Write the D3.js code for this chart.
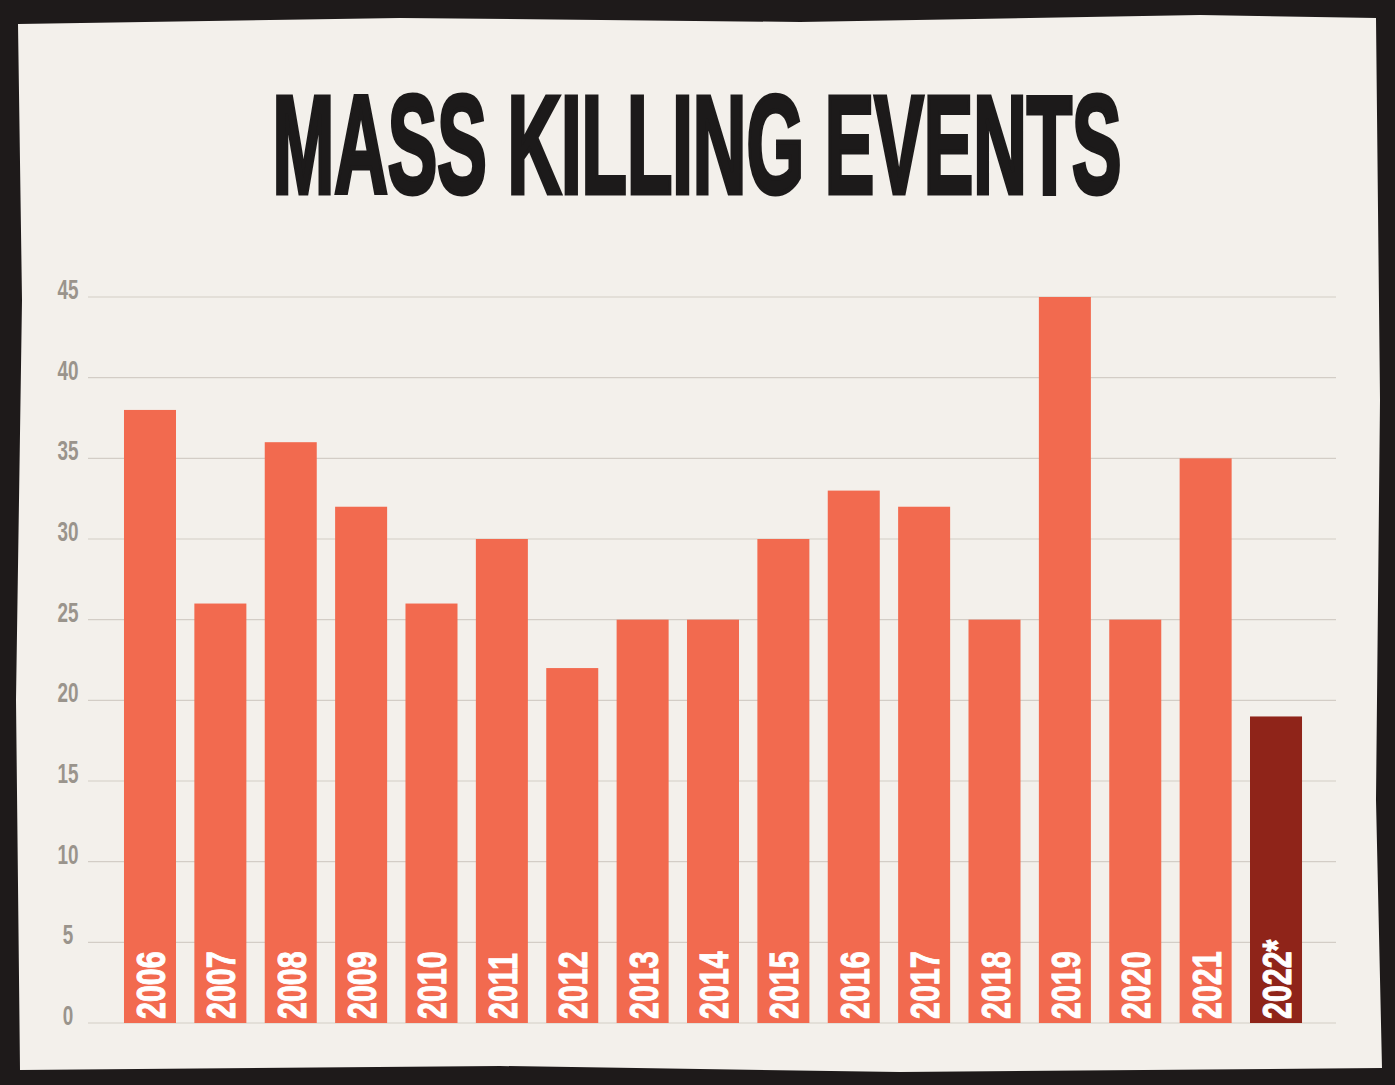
<!DOCTYPE html>
<html><head><meta charset="utf-8">
<script src="https://cdn.jsdelivr.net/npm/d3@7"></script>
<style>body{margin:0;background:#1e1a1a;}svg{display:block}</style>
</head><body>
<svg id="c" width="1395" height="1085"></svg>
<script>
const years = ["2006","2007","2008","2009","2010","2011","2012","2013","2014","2015","2016","2017","2018","2019","2020","2021","2022*"];
const events = [38,26,36,32,26,30,22,25,25,30,33,32,25,45,25,35,19];
const yTicks = [0,5,10,15,20,25,30,35,40,45];
const title = "MASS KILLING EVENTS";

const svg = d3.select("#c");
svg.append("rect").attr("width",1395).attr("height",1085).attr("fill","#1e1a1a");
svg.append("path").attr("fill","#f3f0eb")
  .attr("d","M18,24 L400,18 L800,22 L1200,15 L1376,18 L1380,400 L1376,800 L1382,1068 L900,1072 L500,1066 L20,1070 L16,700 L22,300 Z");

const x = d3.scaleBand().domain(years).range([114.8,1311.2]).paddingInner(0.261).paddingOuter(0.1305);
const y = d3.scaleLinear().domain([0,45]).range([1023,297]);

const g = svg.append("g");
g.selectAll("line.grid").data(yTicks).join("line")
  .attr("x1",88).attr("x2",1336).attr("y1",d=>y(d)).attr("y2",d=>y(d))
  .attr("stroke","#d3cdc6").attr("stroke-width",1.2);
g.selectAll("text.tick").data(yTicks).join("text")
  .attr("text-anchor","middle")
  .attr("font-family","Liberation Sans Narrow, Liberation Sans").attr("font-weight","bold")
  .attr("font-size",27).attr("fill","#9a948c")
  .attr("transform",d=>`translate(68,${y(d)+2}) scale(0.7,1)`)
  .text(d=>d);

g.selectAll("rect.bar").data(years).join("rect")
  .attr("x",d=>x(d)).attr("width",x.bandwidth())
  .attr("y",(d,i)=>y(events[i])).attr("height",(d,i)=>y(0)-y(events[i]))
  .attr("fill",(d,i)=>i===years.length-1?"#8f2419":"#f26a4f");

g.selectAll("text.yr").data(years).join("text")
  .attr("transform",d=>`translate(${x(d)+x.bandwidth()/2+15},${y(0)-4}) rotate(-90) scale(0.76,1.02)`)
  .attr("font-family","Liberation Sans Narrow, Liberation Sans").attr("font-weight","bold")
  .attr("font-size",40).attr("fill","#fff").attr("stroke","#fff").attr("stroke-width",1).text(d=>d);

svg.append("text").attr("transform","translate(697,193) scale(0.53,1)")
  .attr("text-anchor","middle").attr("font-family","Liberation Sans Narrow, Liberation Sans")
  .attr("font-weight","bold").attr("font-size",140).attr("fill","#1c1a1a")
  .attr("stroke","#1c1a1a").attr("stroke-width",5).text(title);
</script>
</body></html>
